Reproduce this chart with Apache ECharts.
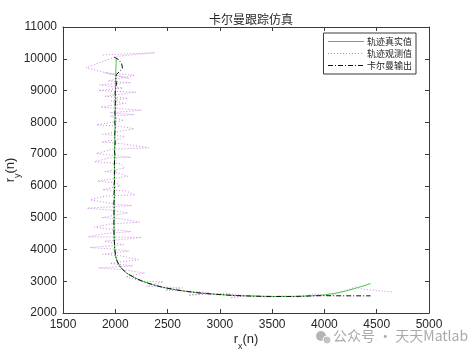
<!DOCTYPE html>
<html><head><meta charset="utf-8">
<script src="https://cdn.jsdelivr.net/npm/echarts@6/dist/echarts.min.js"></script>
<style>html,body{margin:0;padding:0;background:#fff}#c{width:474px;height:355px}</style>
</head><body><div id="c"></div>
<script>
const titleText = '卡尔曼跟踪仿真';
const legendNames = ['轨迹真实值', '轨迹观测值', '卡尔曼输出'];
const xTicks = { min: 1500, max: 5000, interval: 500 };
const yTicks = { min: 2000, max: 11000, interval: 1000 };

const trueTrack = [
[2010,10000],[2008,9850],[2006,9700],[2005,9550],[2004,9400],[2003,9250],[2002,9100],[2001,8950],[2000,8800],[2000,8650],
[1999,8500],[1998,8350],[1998,8200],[1997,8050],[1997,7900],[1996,7750],[1996,7600],[1995,7450],[1995,7300],[1994,7150],
[1994,7000],[1993,6850],[1993,6700],[1992,6550],[1992,6400],[1991,6250],[1991,6100],[1990,5950],[1990,5800],[1990,5650],
[1989,5500],[1989,5350],[1989,5200],[1988,5050],[1988,4900],[1988,4750],[1988,4600],[1989,4450],[1990,4300],[1992,4150],
[1995,4000],[2000,3850],[2010,3700],[2030,3550],[2060,3400],[2110,3250],[2180,3120],[2260,3000],[2350,2900],[2450,2810],
[2560,2740],[2680,2680],[2800,2630],[2920,2600],[3040,2570],[3160,2550],[3280,2535],[3400,2525],[3520,2520],[3640,2520],
[3760,2525],[3880,2540],[4000,2570],[4100,2620],[4200,2690],[4300,2780],[4400,2880],[4440,2930]
];

const observed = [
[1880,10120],[2380,10190],[2020,10080],[1720,9720],[2130,9380],[1900,9560],[2180,9480],[1930,9300],[2150,9250],[1850,9180],
[2070,9080],[1840,9000],[2200,8950],[1900,8820],[2120,8760],[1960,8680],[2100,8600],[1860,8480],[2250,8380],[1950,8300],
[2180,8240],[1950,8200],[2080,8060],[1820,7920],[2030,7880],[2180,7800],[1880,7620],[2090,7560],[2050,7480],[1870,7380],
[2060,7330],[2320,7200],[1970,7150],[1820,7020],[2150,6900],[1940,6880],[1800,6760],[2050,6700],[2090,6560],[1900,6450],
[2020,6420],[2120,6300],[1830,6150],[2000,6100],[2050,6000],[1880,5880],[2100,5840],[2190,5720],[1900,5680],[1760,5560],
[2010,5420],[2160,5380],[1730,5300],[1950,5240],[2120,5150],[1870,5000],[2060,4960],[2230,4860],[1950,4800],[1800,4700],
[2150,4560],[1900,4500],[1740,4400],[2250,4380],[1900,4260],[2080,4150],[1760,4060],[1980,4010],[2130,3950],[1880,3850],
[2050,3800],[2220,3680],[1950,3560],[2170,3480],[1840,3420],[2100,3350],[2280,3260],[2100,3140],[2250,3000],[2460,2980],
[2300,2840],[2640,2790],[2480,2720],[2760,2680],[2900,2630],[2700,2560],[3050,2620],[3230,2540],[3100,2480],[3300,2560],
[3450,2500],[3600,2540],[3750,2500],[3900,2600],[4050,2540],[4150,2640],[4300,2820],[4350,2760],[4650,2660]
];

const kalman = [
[1990,10050],[2030,9980],[2060,9850],[2070,9700],[2040,9600],[2010,9500],[2005,9350],[2012,9200],[2004,9050],[1998,8900],
[2006,8750],[1999,8600],[2003,8450],[1996,8300],[2001,8150],[1995,8000],[2002,7850],[1997,7700],[1993,7550],[2000,7400],
[1996,7250],[1992,7100],[1998,6950],[1994,6800],[1990,6650],[1996,6500],[1991,6350],[1994,6200],[1989,6050],[1993,5900],
[1988,5750],[1992,5600],[1986,5450],[1990,5300],[1987,5150],[1991,5000],[1986,4850],[1989,4700],[1987,4550],[1990,4400],
[1991,4250],[1994,4100],[1997,3950],[2004,3800],[2015,3650],[2035,3510],[2070,3370],[2120,3230],[2190,3100],[2270,2985],
[2360,2890],[2460,2805],[2570,2735],[2690,2675],[2810,2630],[2930,2595],[3050,2568],[3170,2548],[3290,2533],[3410,2524],
[3530,2520],[3650,2520],[3770,2526],[3890,2540],[4000,2545],[4100,2542],[4200,2540],[4300,2540],[4440,2540]
];

const axisColor = '#3a3a3a';
const font = '"Liberation Sans", Arial, Helvetica, sans-serif';
const cjk = '"Noto Sans CJK SC", sans-serif';
const nameRich = {
  a: {fontFamily: font, fontSize: 13, color: '#262626', lineHeight: 18, verticalAlign: 'top'},
  s: {fontFamily: font, fontSize: 9, color: '#262626', lineHeight: 18, verticalAlign: 'bottom'}
};
const plain = v => String(v);
const styles = [
  {color: '#3fc93f', width: 1, type: 'solid'},
  {color: '#c98ade', width: 1, type: [1, 2]},
  {color: '#111111', width: 1, type: [5, 2, 1, 2]}
];

const chart = echarts.init(document.getElementById('c'), null, {renderer: 'canvas'});
chart.setOption({
  animation: false,
  backgroundColor: '#fff',
  title: {
    text: titleText, left: 246, top: 8, textAlign: 'center',
    textStyle: {fontFamily: cjk, fontSize: 12, fontWeight: 'normal', color: '#262626'}
  },
  grid: {left: 63, right: 45, top: 27, bottom: 42, show: false, containLabel: false, outerBoundsMode: 'none'},
  legend: {
    data: legendNames.map((n, i) => ({name: n, lineStyle: styles[i], itemStyle: {opacity: 0}})),
    orient: 'vertical', right: 58, top: 33,
    backgroundColor: '#fff', borderColor: axisColor, borderWidth: 1, borderRadius: 0,
    padding: [4, 4, 4, 4], itemGap: 3, itemWidth: 36, itemHeight: 11,
    textStyle: {fontFamily: cjk, fontSize: 9, color: '#262626', padding: [0, 0, 0, -2]}
  },
  xAxis: [{
    type: 'value', min: xTicks.min, max: xTicks.max, interval: xTicks.interval,
    name: '{a|r}{s|x}{a|(n)}', nameLocation: 'middle', nameGap: 20, nameMoveOverlap: false,
    nameTextStyle: {rich: nameRich},
    axisLine: {show: true, onZero: false, lineStyle: {color: axisColor, width: 1}},
    axisTick: {show: true, inside: true, length: 4, lineStyle: {color: axisColor}},
    axisLabel: {fontFamily: font, fontSize: 12, color: '#262626', margin: 6, formatter: plain},
    splitLine: {show: false}
  }, {
    type: 'value', position: 'top', min: xTicks.min, max: xTicks.max, interval: xTicks.interval,
    axisLine: {show: true, onZero: false, lineStyle: {color: axisColor, width: 1}},
    axisTick: {show: true, inside: true, length: 4, lineStyle: {color: axisColor}},
    axisLabel: {show: false}, splitLine: {show: false}
  }],
  yAxis: [{
    type: 'value', min: yTicks.min, max: yTicks.max, interval: yTicks.interval,
    name: '{a|r}{s|y}{a|(n)}', nameLocation: 'middle', nameGap: 41, nameRotate: 90, nameMoveOverlap: false,
    nameTextStyle: {rich: nameRich},
    axisLine: {show: true, onZero: false, lineStyle: {color: axisColor, width: 1}},
    axisTick: {show: true, inside: true, length: 4, lineStyle: {color: axisColor}},
    axisLabel: {fontFamily: font, fontSize: 12, color: '#262626', margin: 6, formatter: plain},
    splitLine: {show: false}
  }, {
    type: 'value', position: 'right', min: yTicks.min, max: yTicks.max, interval: yTicks.interval,
    axisLine: {show: true, onZero: false, lineStyle: {color: axisColor, width: 1}},
    axisTick: {show: true, inside: true, length: 4, lineStyle: {color: axisColor}},
    axisLabel: {show: false}, splitLine: {show: false}
  }],
  series: [{
    name: legendNames[0], type: 'line', data: trueTrack, symbol: 'none',
    lineStyle: styles[0], itemStyle: {color: styles[0].color}, z: 2
  }, {
    name: legendNames[1], type: 'line', data: observed, symbol: 'none',
    lineStyle: styles[1], itemStyle: {color: styles[1].color}, z: 3
  }, {
    name: legendNames[2], type: 'line', data: kalman, symbol: 'none',
    lineStyle: styles[2], itemStyle: {color: styles[2].color}, z: 4
  }],
  graphic: [
    {type: 'circle', shape: {cx: 321, cy: 336, r: 5}, style: {fill: 'rgba(150,150,150,0.7)'}, z: 100},
    {type: 'circle', shape: {cx: 327, cy: 340, r: 4}, style: {fill: 'rgba(170,170,170,0.7)', stroke: '#fff', lineWidth: 1}, z: 101},
    {type: 'text', left: 333, top: 329, z: 100,
     style: {text: '公众号 · 天天Matlab', fontFamily: cjk, fontSize: 14, fill: 'rgba(140,140,140,0.75)'}}
  ]
});
</script>
</body></html>
